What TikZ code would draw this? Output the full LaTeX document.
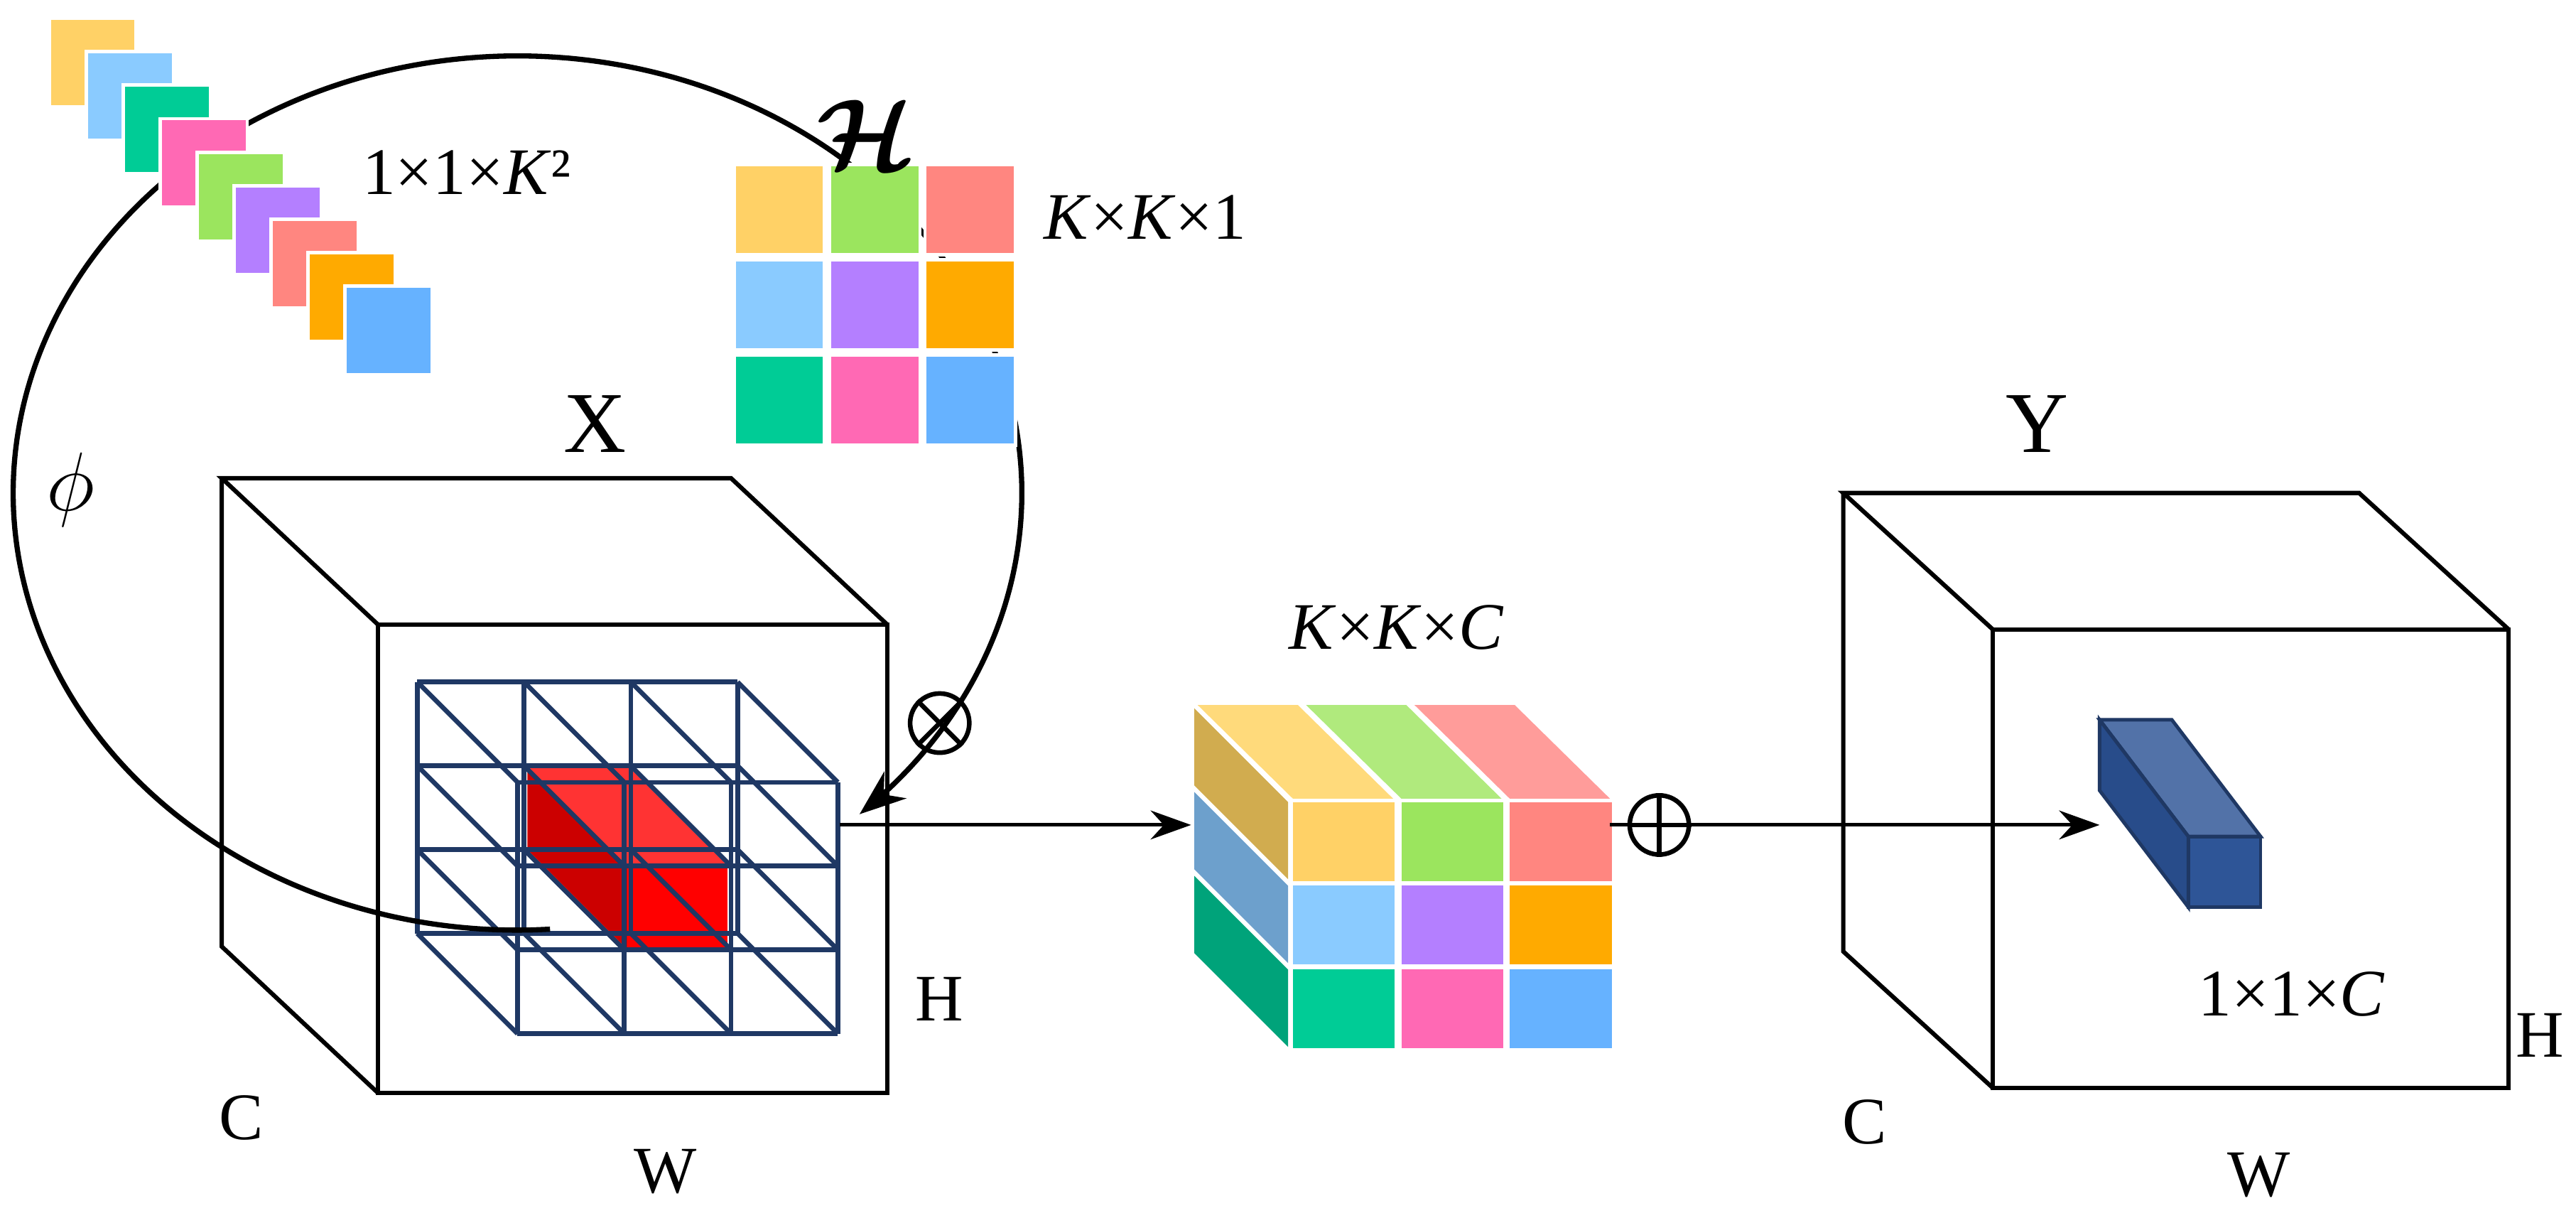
\documentclass[tikz,border=0pt]{standalone}
\usepackage{fontspec}
\usepackage{bm}
\setmainfont{Liberation Serif}
\usetikzlibrary{arrows.meta}
\definecolor{cyel}{HTML}{FFD166}
\definecolor{clb}{HTML}{8ACBFF}
\definecolor{cgr}{HTML}{00CC96}
\definecolor{cpk}{HTML}{FF69B4}
\definecolor{clg}{HTML}{9BE55E}
\definecolor{cpu}{HTML}{B47FFF}
\definecolor{csa}{HTML}{FF8680}
\definecolor{cor}{HTML}{FFAA00}
\definecolor{cbl}{HTML}{66B2FF}
\definecolor{navy}{HTML}{1F3864}
\tikzset{
  sq/.style={draw=white, line width=0.6pt},
  cube/.style={draw=black, line width=0.75pt},
  wire/.style={draw=navy, line width=0.8pt},
  conn/.style={draw=black, line width=0.6pt, -{Stealth[length=7pt,width=5pt]}},
  lbl/.style={inner sep=0pt, font=\fontsize{11.5}{12}\selectfont},
  big/.style={inner sep=0pt, font=\fontsize{15}{16}\selectfont},
}
\begin{document}
\begin{tikzpicture}[x=0.01cm,y=-0.01cm]
\useasboundingbox (0,0) rectangle (1568,741);
% ---------- X cube
\draw[cube] (230,380) rectangle (540,665);
\draw[cube] (230,380) -- (135,291) -- (445,291) -- (540,380);
\draw[cube] (135,291) -- (135,576) -- (230,665);
% red cuboid
\fill[red!80!white, fill={rgb,255:red,255;green,51;blue,51}] (321,466) -- (382,466) -- (443,527) -- (382,527) -- cycle;
\fill[fill={rgb,255:red,204;green,0;blue,0}] (321,466) -- (382,527) -- (382,578) -- (321,517) -- cycle;
\fill[red] (382,527) rectangle (443,578);
% wireframe
\foreach \k in {0,1,2,3}{
  \draw[wire] (254+65*\k,415) -- (254+65*\k,568);
  \draw[wire] (254,415+51*\k) -- (449,415+51*\k);
  \draw[wire] (315+65*\k,476) -- (315+65*\k,629);
  \draw[wire] (315,476+51*\k) -- (510,476+51*\k);
  \foreach \m in {0,1,2,3}{
    \draw[wire] (254+65*\k,415+51*\m) -- (315+65*\k,476+51*\m);
  }
}
\coordinate (gridR) at (511,502);
% ---------- arc phi
\draw[black, line width=0.9pt, -{Stealth[length=8pt,width=6pt]}]
  plot[domain=86.3:407.3, samples=160, smooth] ({315+307*cos(\x)},{300+266*sin(\x)});
% ---------- stack of 1x1xK^2
\foreach \c [count=\i from 0] in {cyel,clb,cgr,cpk,clg,cpu,csa,cor,cbl}{
  \filldraw[sq, fill=\c] (30+22.5*\i,11+20.4*\i) rectangle ++(53,54);
}
\node[lbl] (k2) at (284,105) {1×1×\textit{K}²};
% ---------- H grid
\foreach \c [count=\i from 0] in {cyel,clg,csa,clb,cpu,cor,cgr,cpk,cbl}{
  \pgfmathtruncatemacro{\r}{int(\i/3)}
  \pgfmathtruncatemacro{\q}{mod(\i,3)}
  \filldraw[sq, fill=\c] (447+58*\q,100+58*\r) rectangle ++(55,55);
}
\node[inner sep=0pt, font=\fontsize{17}{17}\selectfont] (Hs) at (527,82) {$\bm{\mathcal{H}}$};
\node[lbl] (kk1) at (697,132) {\textit{K}×\textit{K}×1};
\node[lbl, font=\fontsize{14}{14}\selectfont] (phi) at (43,298) {$\phi$};
% otimes
\node[draw, circle, line width=0.8pt, minimum size=0.36cm, inner sep=0pt] (ot) at (572,440) {};
\draw[line width=0.8pt] (ot.45) -- (ot.225) (ot.135) -- (ot.315);
\node[big] (Xl) at (362,258) {X};
\node[lbl] (Cx) at (147,680) {C};
\node[lbl] (Hx) at (572,608) {H};
\node[lbl] (Wx) at (405,713) {W};
% ---------- middle cube KxKxC
\foreach \c [count=\j from 0] in {{rgb,255:red,255;green,218;blue,123},{rgb,255:red,176;green,234;blue,125},{rgb,255:red,255;green,156;blue,154}}{
  \fill[fill=\c] (787+66*\j,486) -- (848+66*\j,486) -- (790+66*\j,429) -- (729+66*\j,429) -- cycle;
}
\foreach \c [count=\i from 0] in {{rgb,255:red,209;green,172;blue,79},{rgb,255:red,109;green,160;blue,204},{rgb,255:red,0;green,163;blue,122}}{
  \fill[fill=\c] (784,488+51*\i) -- (784,535+51*\i) -- (727,478+51*\i) -- (727,431+51*\i) -- cycle;
}
\foreach \c [count=\i from 0] in {cyel,clg,csa,clb,cpu,cor,cgr,cpk,cbl}{
  \pgfmathtruncatemacro{\r}{int(\i/3)}
  \pgfmathtruncatemacro{\q}{mod(\i,3)}
  \fill[fill=\c] (787+66*\q,488+51*\r) rectangle ++(62,48);
}
\coordinate (midL) at (725,502);
\coordinate (midR) at (980,502);
\node[lbl] (kkc) at (850,382) {\textit{K}×\textit{K}×\textit{C}};
% ---------- Y cube
\draw[cube] (1213,383) rectangle (1527,662);
\draw[cube] (1213,383) -- (1122,300) -- (1436,300) -- (1527,383);
\draw[cube] (1122,300) -- (1122,579) -- (1213,662);
\node[big] (Yl) at (1240,258) {Y};
\node[lbl] (Cy) at (1135,683) {C};
\node[lbl] (Hy) at (1546,630) {H};
\node[lbl] (Wy) at (1375,715) {W};
% blue bar
\filldraw[draw=navy, line width=0.6pt, fill={rgb,255:red,82;green,114;blue,168}] (1278,438) -- (1322,438) -- (1376,509) -- (1332,509) -- cycle;
\filldraw[draw=navy, line width=0.6pt, fill={rgb,255:red,40;green,76;blue,138}] (1278,438) -- (1332,509) -- (1332,552) -- (1278,481) -- cycle;
\filldraw[draw=navy, line width=0.6pt, fill={rgb,255:red,46;green,85;blue,151}] (1332,509) rectangle (1376,552);
\coordinate (bar) at (1278,502);
\node[lbl] (k1c) at (1395,605) {1×1×\textit{C}};
% ---------- connectors
\draw[conn] (gridR) -- (midL);
\draw[conn] (midR) -- (bar);
\node[draw, circle, fill=white, line width=0.8pt, minimum size=0.36cm, inner sep=0pt] (op) at (1010,502) {};
\draw[line width=0.8pt] (op.north) -- (op.south) (op.west) -- (op.east);
\end{tikzpicture}
\end{document}
